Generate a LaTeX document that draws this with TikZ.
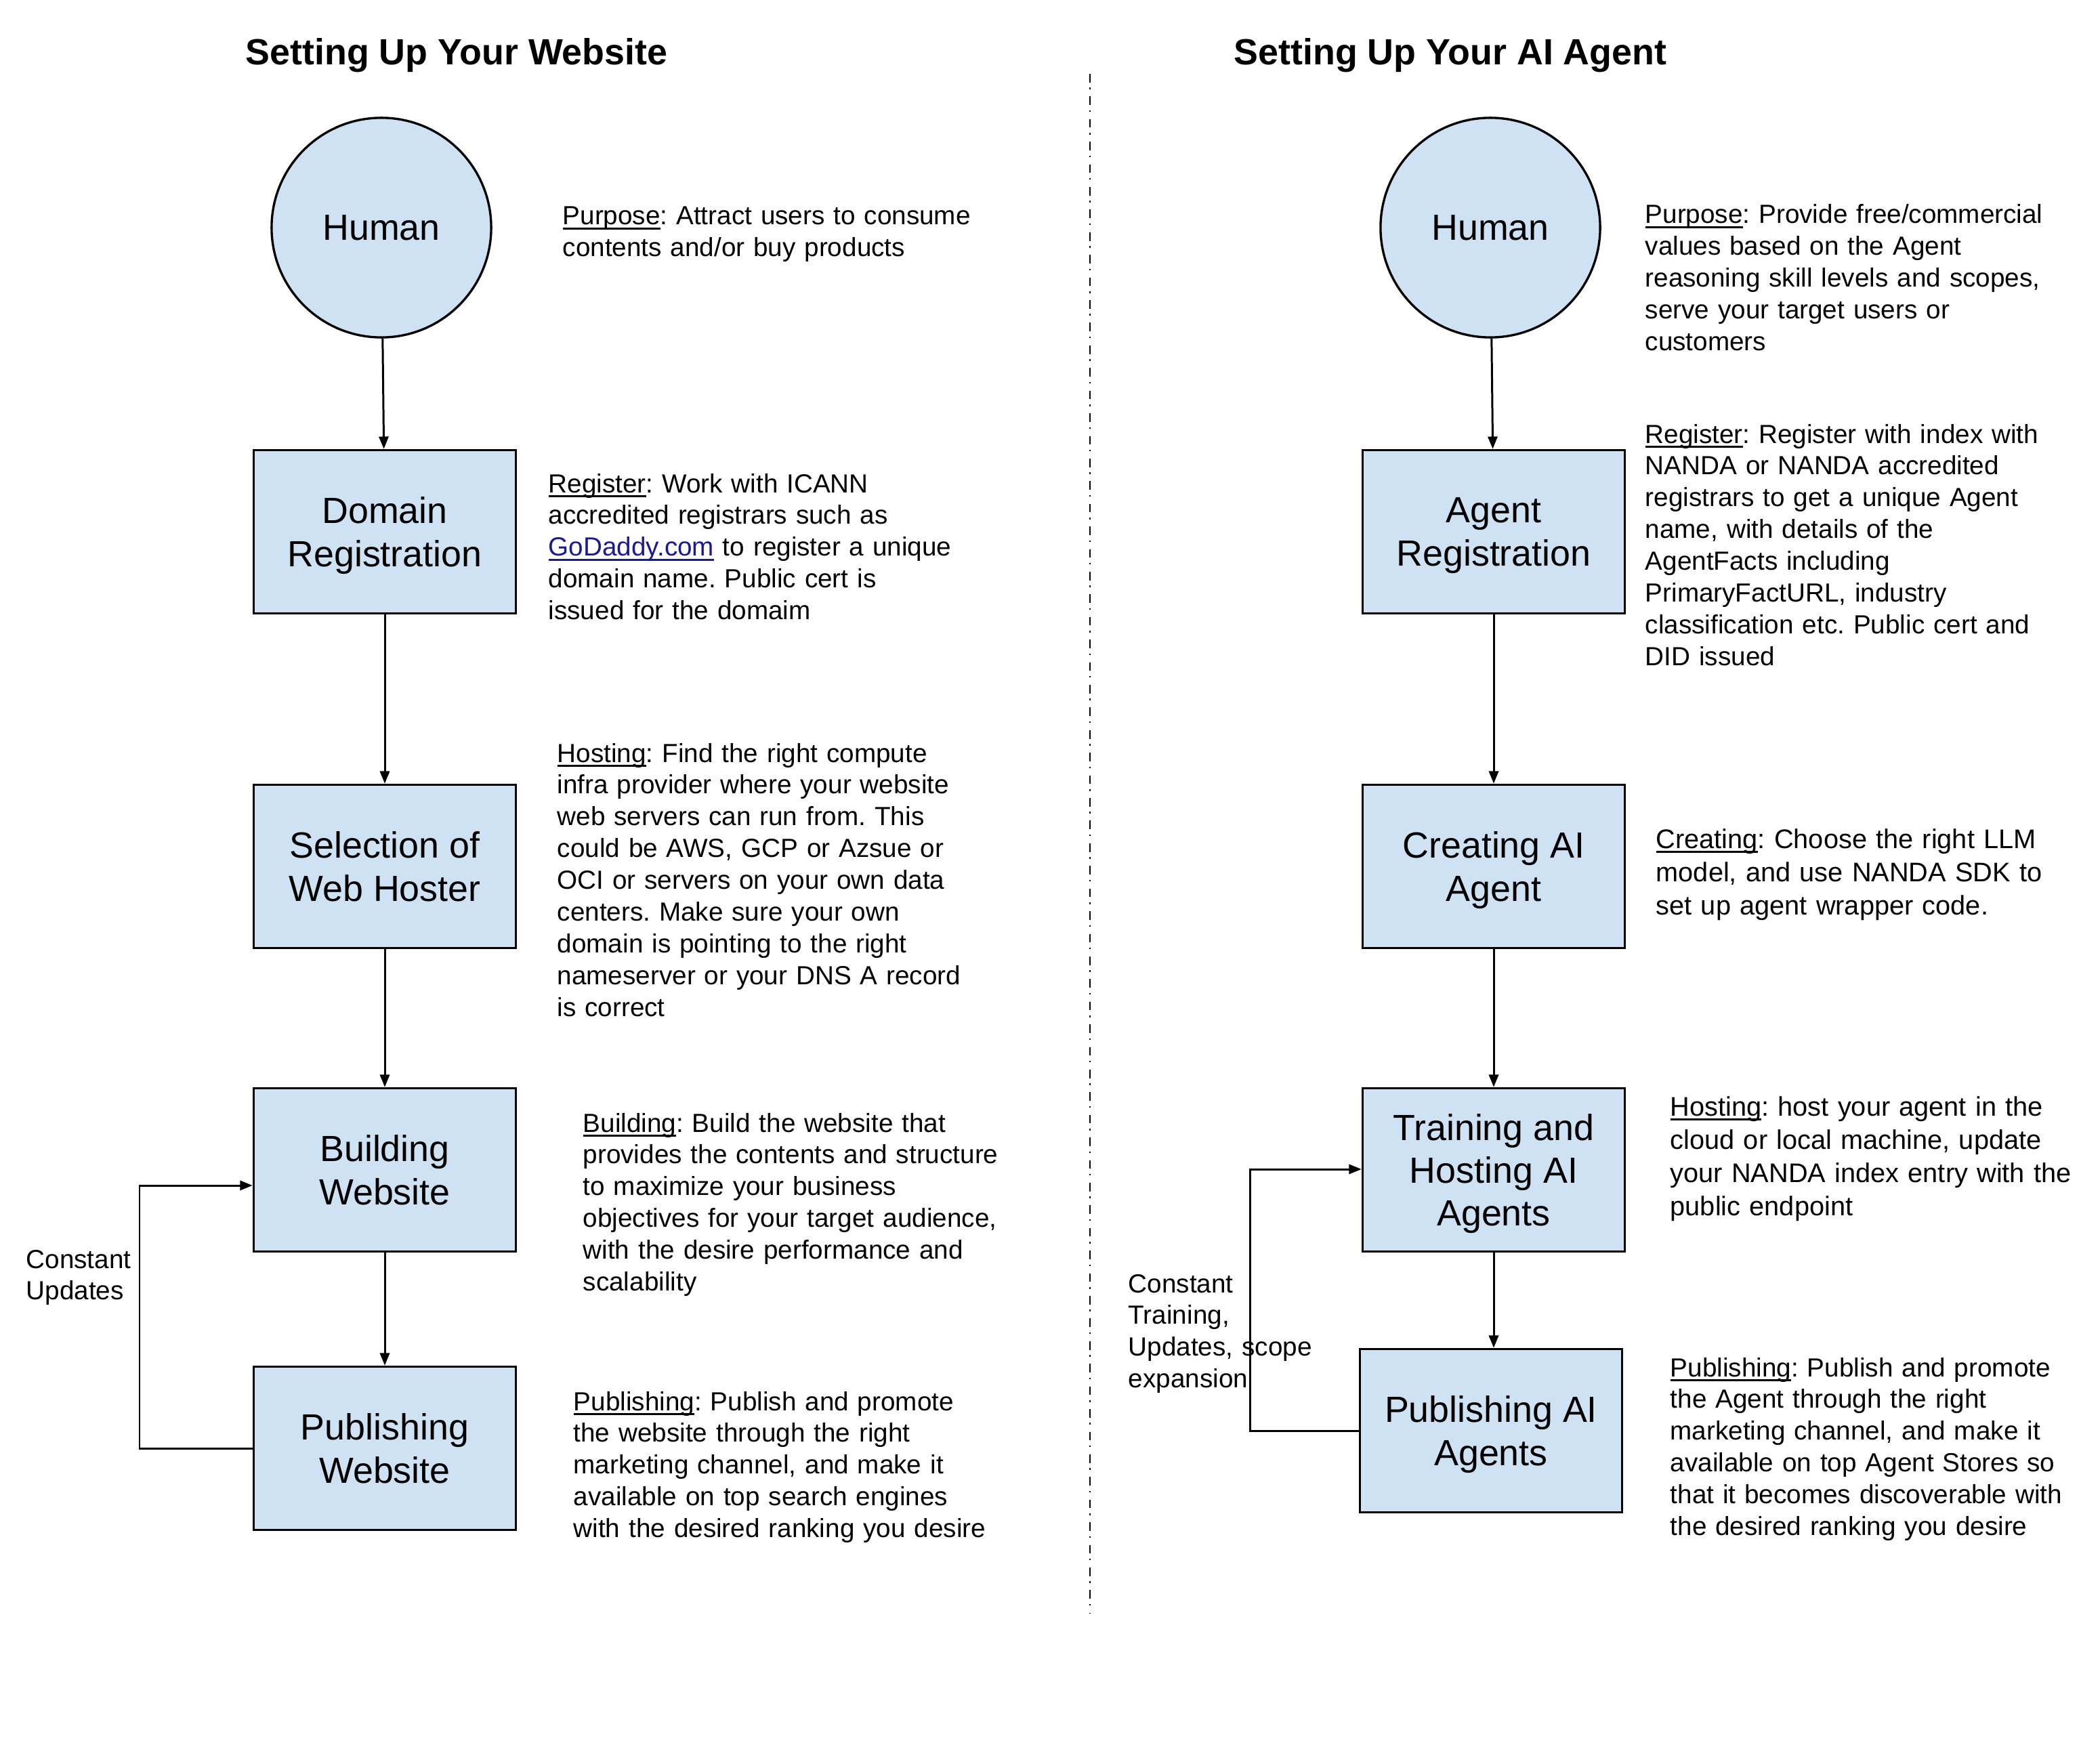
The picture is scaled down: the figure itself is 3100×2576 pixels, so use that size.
\documentclass[tikz,border=0pt]{standalone}
\usepackage{fontspec}
\setmainfont{Liberation Sans}
\usetikzlibrary{arrows.meta}
\definecolor{boxblue}{HTML}{CFE2F3}
\definecolor{linkblue}{RGB}{26,26,150}
\newcommand{\notefont}{\fontsize{11}{13.35}\selectfont\frenchspacing}
\newcommand{\widenotefont}{\fontsize{11.3}{14}\selectfont\frenchspacing}
\newcommand{\boxfont}{\fontsize{15.3}{18}\selectfont}
\newcommand{\titlefont}{\fontsize{15.3}{18}\selectfont\bfseries}
\newcommand{\uword}[1]{\leavevmode\setbox0\hbox{#1}\rlap{\rule[-1.9pt]{\wd0}{0.8pt}}\box0}
\begin{document}
\begin{tikzpicture}
[x=0.01cm,y=-0.01cm,
  humannode/.style={shape=circle,draw,line width=0.95pt,fill=boxblue,minimum size=3.24cm,inner sep=0pt,font=\boxfont},%
  stepnode/.style={shape=rectangle,draw,line width=0.95pt,fill=boxblue,minimum width=3.87cm,minimum height=2.41cm,align=center,text depth=0pt,font=\boxfont},%
  notenode/.style={anchor=base west,inner sep=0pt,text width=6.3cm,align=left,font=\notefont},%
  titlenode/.style={anchor=base,inner sep=0pt,font=\titlefont},%
  flowline/.style={-{Triangle[length=5.2pt,width=4pt]},line width=0.85pt}]
\useasboundingbox (0,0) rectangle (3100,2576);
%% titles and divider
\node[titlenode] (ltitle) at (674,96) {Setting Up Your Website};
\node[titlenode] (rtitle) at (2141,96) {Setting Up Your AI Agent};
\draw[line width=0.75pt,dash pattern=on 3.6pt off 2.2pt on 0.7pt off 3.0pt] (1609,109) -- (1609,2382);
%% nodes or vertices
\node (lhum) at (563,336) [humannode] {Human};
\node (rhum) at (2200,336) [humannode] {Human};
\foreach \nodename/\x/\y/\nodetext in {ldom/568/785/{Domain\\Registration},
  lhost/568/1279/{Selection of\\Web Hoster}, lbuild/568/1727/{Building\\Website},
  lpub/568/2138/{Publishing\\Website}, rreg/2205/785/{Agent\\Registration},
  rcreate/2205/1279/{Creating AI\\Agent}, rtrain/2205/1727/{Training and\\Hosting AI\\Agents},
  rpub/2201/2112/{Publishing AI\\Agents}} {
  \node (\nodename) at (\x,\y) [stepnode] {\nodetext};
}
%% edges or lines
\path
\foreach \startnode/\endnode in {lhum/ldom, ldom/lhost, lhost/lbuild, lbuild/lpub,
  rhum/rreg, rreg/rcreate, rcreate/rtrain} {
  (\startnode) edge[flowline] (\endnode)
};
\draw[flowline] (rtrain.south) -- (rtrain.south |- rpub.north);
%% feedback loops
\coordinate (lloop) at (206,1750);
\coordinate (rloop) at (1845,1726);
\draw[flowline] (lpub.west) -| (lloop) -- (lloop -| lbuild.west);
\draw[flowline] (rpub.west) -| (rloop) -- (rloop -| rtrain.west);
\node[notenode] (lupd) at (38,1872) {Constant\\Updates};
\node[notenode] (rupd) at (1665,1908) {Constant\\Training,\\Updates, scope\\expansion};
%% notes on the left
\node[notenode] (lpurpose) at (830,332) {\uword{Purpose}: Attract users to consume\\contents and/or buy products};
\node[notenode] (lregister) at (809,727) {\uword{Register}: Work with ICANN\\accredited registrars such as\\{\color{linkblue}\uword{GoDaddy.com}} to register a unique\\domain name. Public cert is\\issued for the domaim};
\node[notenode] (lhosting) at (822,1125) {\uword{Hosting}: Find the right compute\\infra provider where your website\\web servers can run from. This\\could be AWS, GCP or Azsue or\\OCI or servers on your own data\\centers. Make sure your own\\domain is pointing to the right\\nameserver or your DNS A record\\is correct};
\node[notenode] (lbuilding) at (860,1671) {\uword{Building}: Build the website that\\provides the contents and structure\\to maximize your business\\objectives for your target audience,\\with the desire performance and\\scalability};
\node[notenode] (lpublishing) at (846,2082) {\uword{Publishing}: Publish and promote\\the website through the right\\marketing channel, and make it\\available on top search engines\\with the desired ranking you desire};
%% notes on the right
\node[notenode] (rpurpose) at (2428,330) {\uword{Purpose}: Provide free/commercial\\values based on the Agent\\reasoning skill levels and scopes,\\serve your target users or\\customers};
\node[notenode] (rregister) at (2428,654) {\uword{Register}: Register with index with\\NANDA or NANDA accredited\\registrars to get a unique Agent\\name, with details of the\\AgentFacts including\\PrimaryFactURL, industry\\classification etc. Public cert and\\DID issued};
\node[notenode,font=\widenotefont] (rcreating) at (2444,1252) {\uword{Creating}: Choose the right LLM\\model, and use NANDA SDK to\\set up agent wrapper code.};
\node[notenode,font=\widenotefont] (rhosting) at (2465,1647) {\uword{Hosting}: host your agent in the\\cloud or local machine, update\\your NANDA index entry with the\\public endpoint};
\node[notenode] (rpublishing) at (2465,2032) {\uword{Publishing}: Publish and promote\\the Agent through the right\\marketing channel, and make it\\available on top Agent Stores so\\that it becomes discoverable with\\the desired ranking you desire};
\end{tikzpicture}
\end{document}
